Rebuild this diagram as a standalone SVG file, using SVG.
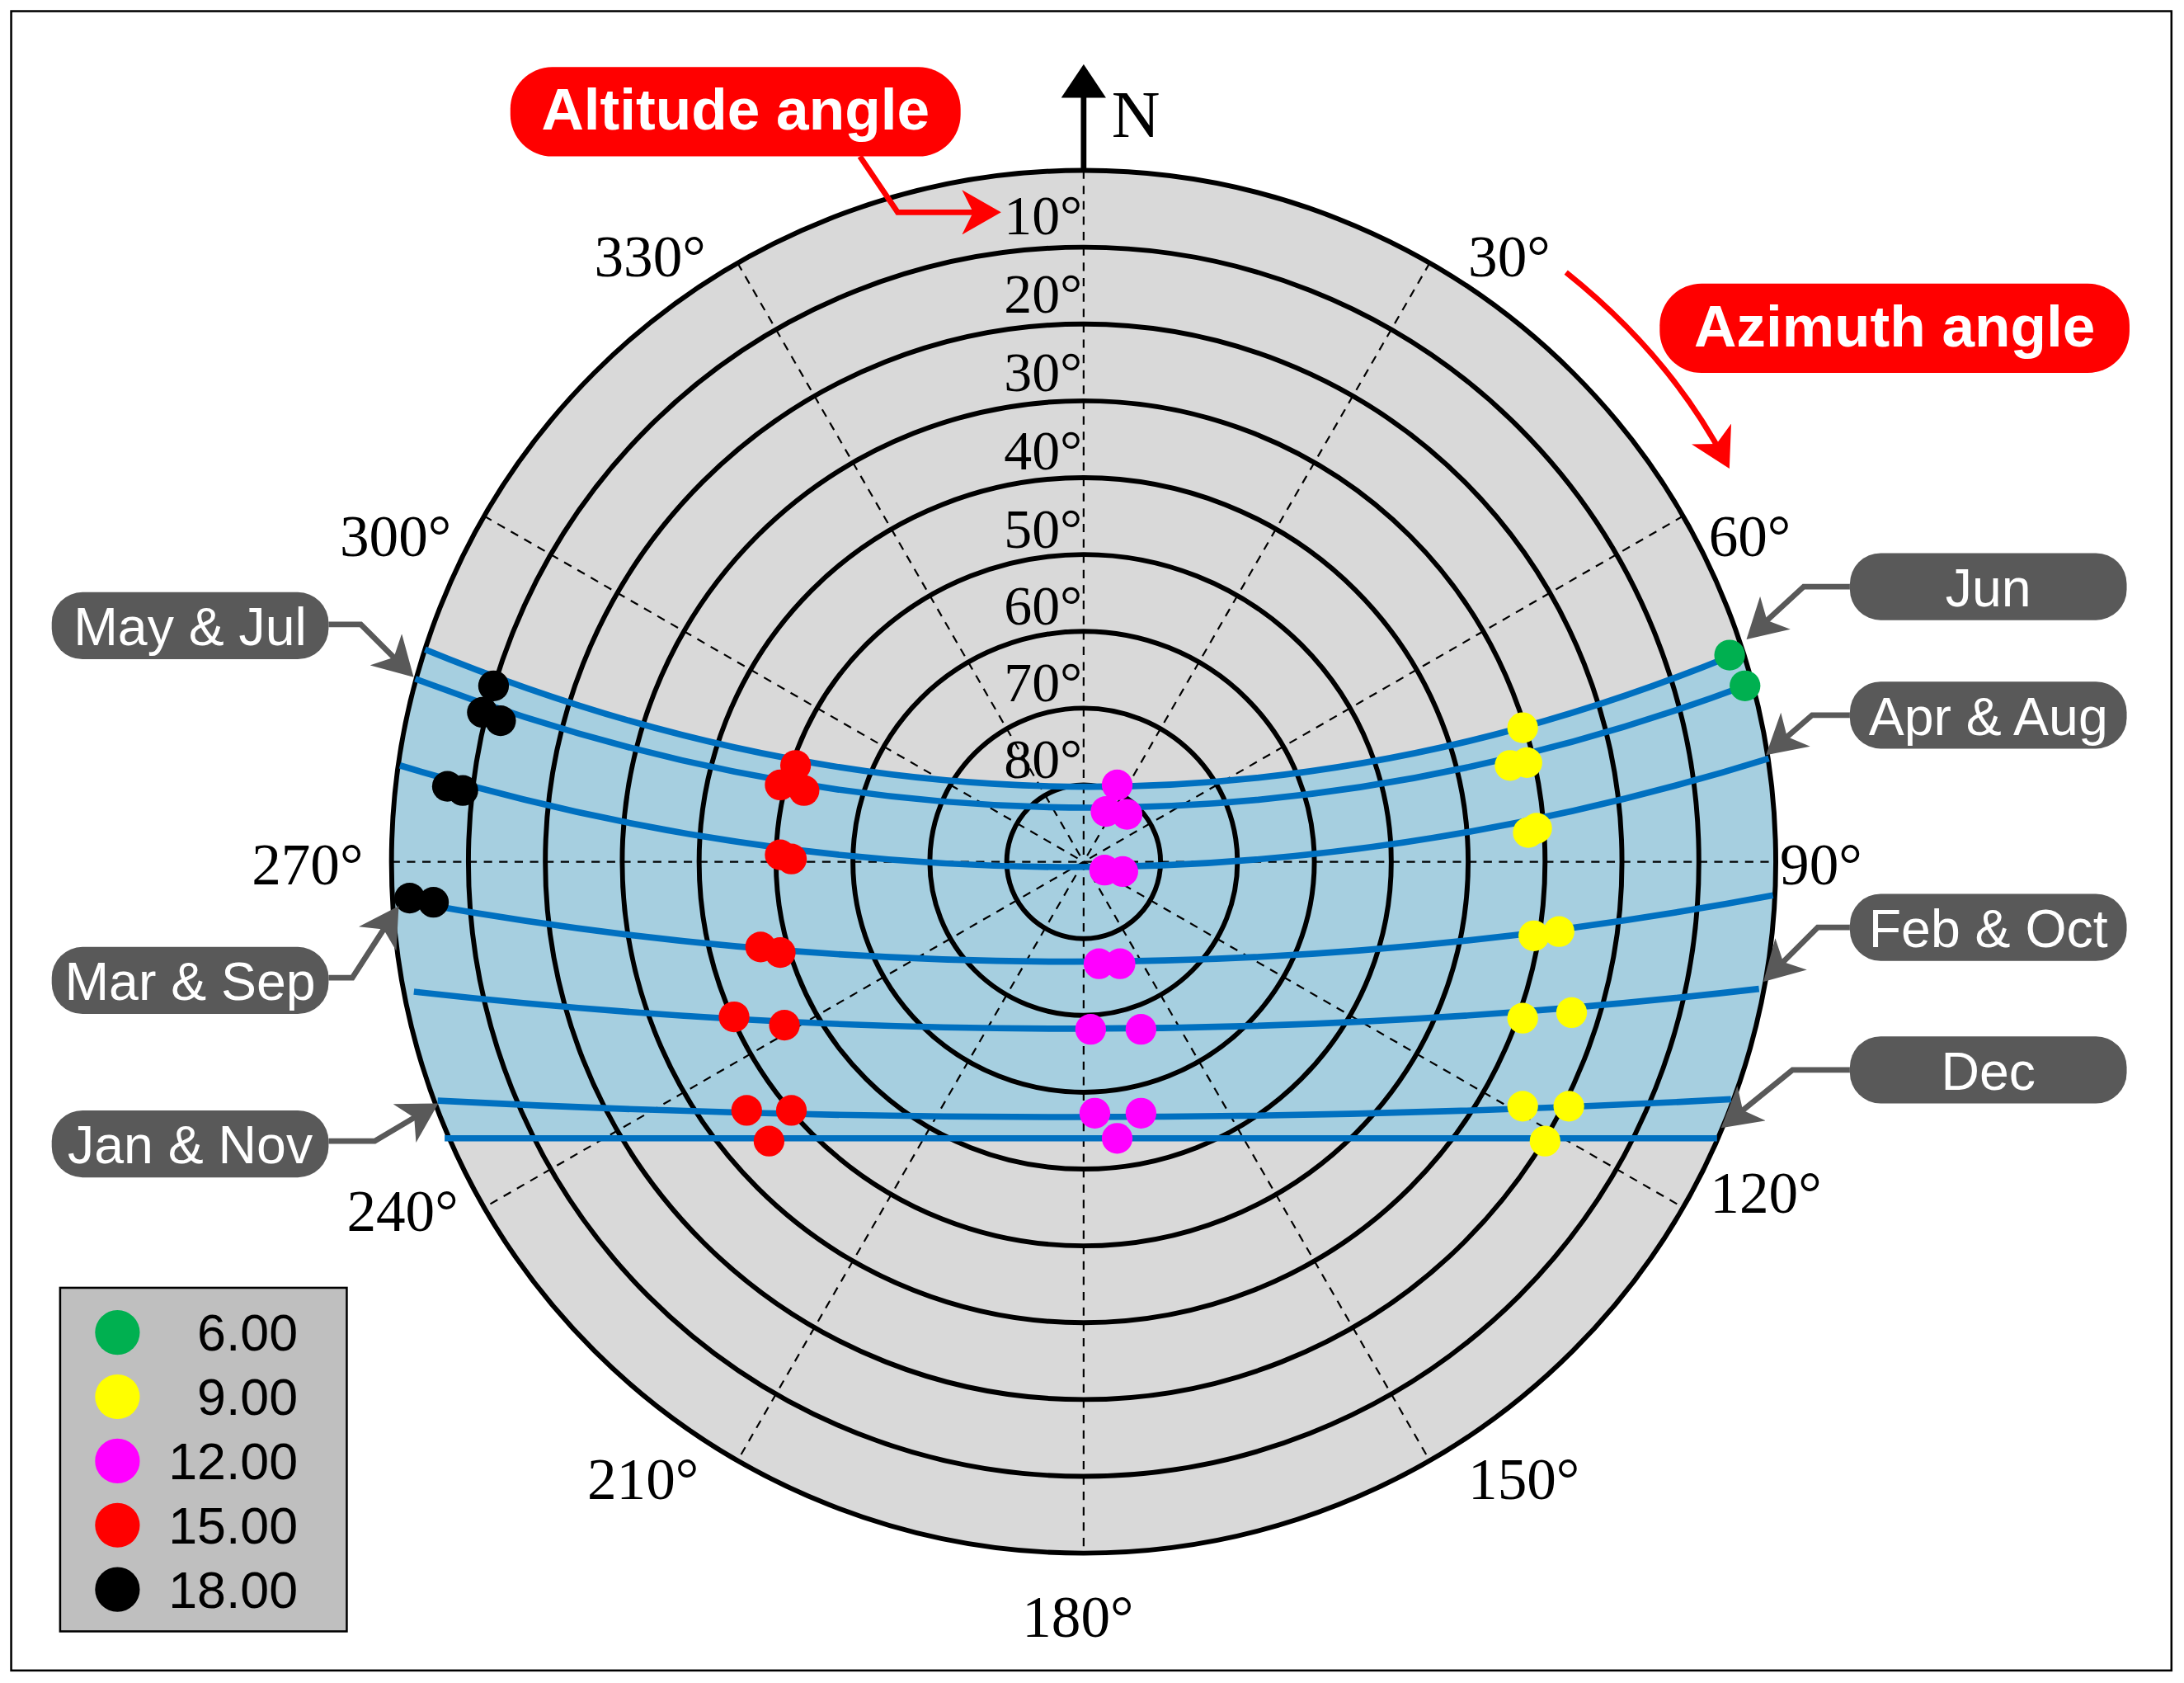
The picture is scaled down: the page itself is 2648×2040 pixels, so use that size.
<svg xmlns="http://www.w3.org/2000/svg" width="2648" height="2040" viewBox="0 0 2648 2040">
<style>
.ring{fill:none;stroke:#000;stroke-width:3.5}
.sp{stroke:#000;stroke-width:1.3;stroke-dasharray:6 5;fill:none}
.cv{fill:none;stroke:#0070c0;stroke-width:4.5}
.tm{font-family:"Liberation Serif",serif;font-size:42px;fill:#000}
.al{font-family:"Liberation Serif",serif;font-size:40px;fill:#000;text-anchor:middle}
.cb{font-family:"Liberation Sans",Arial,sans-serif;font-size:38px;fill:#fff;text-anchor:middle}
.rb{font-family:"Liberation Sans",Arial,sans-serif;font-size:42px;font-weight:bold;fill:#fff;text-anchor:middle}
.lg{font-family:"Liberation Sans",Arial,sans-serif;font-size:37px;fill:#000;text-anchor:end}
.ga{fill:none;stroke:#595959;stroke-width:4;marker-end:url(#ga)}
.ra{fill:none;stroke:#f00;stroke-width:4;marker-end:url(#ra)}
</style>
<defs>
<marker id="ga" markerWidth="8" markerHeight="8" refX="6" refY="4" orient="auto" markerUnits="strokeWidth"><path d="M0,0 L7,4 L0,8 L2,4 Z" fill="#595959"/></marker>
<marker id="ra" markerWidth="8" markerHeight="8" refX="6" refY="4" orient="auto" markerUnits="strokeWidth"><path d="M0,0 L7,4 L0,8 L2,4 Z" fill="#f00"/></marker>
<marker id="ka" markerWidth="6" markerHeight="8" refX="5" refY="4" orient="auto" markerUnits="strokeWidth"><path d="M0,0 L6,4 L0,8 Z" fill="#000"/></marker>
<clipPath id="cc"><circle cx="775" cy="617" r="495"/></clipPath>
</defs>
<rect width="2648" height="2040" fill="#fff"/>
<g transform="scale(1.6953 1.693)">
<rect x="8" y="8" width="1545" height="1188" fill="none" stroke="#000" stroke-width="1.5"/>
<g id="plot">
<circle cx="775" cy="617" r="495" fill="#d9d9d9"/>
<path clip-path="url(#cc)" d="M304,465 Q775,659 1237,470 L1300,440 L1300,815 L250,815 L250,440 Z" fill="#a6cfe0"/>
<g>
<line class="sp" x1="775" y1="122" x2="775" y2="1112"/>
<line class="sp" x1="280" y1="617" x2="1270" y2="617"/>
<line class="sp" x1="527.5" y1="188.3" x2="1022.5" y2="1045.7"/>
<line class="sp" x1="1022.5" y1="188.3" x2="527.5" y2="1045.7"/>
<line class="sp" x1="346.3" y1="369.5" x2="1203.7" y2="864.5"/>
<line class="sp" x1="1203.7" y1="369.5" x2="346.3" y2="864.5"/>
</g>
<circle class="ring" cx="775" cy="617" r="495"/>
<circle class="ring" cx="775" cy="617" r="440"/>
<circle class="ring" cx="775" cy="617" r="385"/>
<circle class="ring" cx="775" cy="617" r="330"/>
<circle class="ring" cx="775" cy="617" r="275"/>
<circle class="ring" cx="775" cy="617" r="220"/>
<circle class="ring" cx="775" cy="617" r="165"/>
<circle class="ring" cx="775" cy="617" r="110"/>
<circle class="ring" cx="775" cy="617" r="55"/>
<line x1="775" y1="122" x2="775" y2="50" stroke="#000" stroke-width="4" marker-end="url(#ka)"/>
</g>
<g id="curves">
<path class="cv" d="M304,465 Q775,659 1237,470"/>
<path class="cv" d="M297,486 Q775,668 1248,491"/>
<path class="cv" d="M286,548 Q775,696 1265,543"/>
<path class="cv" d="M290,645 Q775,734 1268,641"/>
<path class="cv" d="M296,710 Q775,764 1258,708"/>
<path class="cv" d="M313,788 Q775,812 1238,787"/>
<path class="cv" d="M318,815 L1228,815"/>
</g>
<g id="dots">
<g fill="#000"><circle cx="353" cy="491" r="11"/><circle cx="345" cy="510" r="11"/><circle cx="358" cy="516" r="11"/><circle cx="320" cy="563" r="11"/><circle cx="331" cy="566" r="11"/><circle cx="293" cy="643" r="11"/><circle cx="310" cy="646" r="11"/></g>
<g fill="#f00"><circle cx="569" cy="548" r="11"/><circle cx="558" cy="562" r="11"/><circle cx="575" cy="566" r="11"/><circle cx="558" cy="612" r="11"/><circle cx="566" cy="615" r="11"/><circle cx="544" cy="678" r="11"/><circle cx="558" cy="682" r="11"/><circle cx="525" cy="728" r="11"/><circle cx="561" cy="734" r="11"/><circle cx="534" cy="795" r="11"/><circle cx="566" cy="795" r="11"/><circle cx="550" cy="817" r="11"/></g>
<g fill="#f0f"><circle cx="799" cy="562" r="11"/><circle cx="791" cy="581" r="11"/><circle cx="806" cy="583" r="11"/><circle cx="790" cy="623" r="11"/><circle cx="803" cy="624" r="11"/><circle cx="786" cy="690" r="11"/><circle cx="801" cy="690" r="11"/><circle cx="780" cy="737" r="11"/><circle cx="816" cy="737" r="11"/><circle cx="783" cy="797" r="11"/><circle cx="816" cy="797" r="11"/><circle cx="799" cy="815" r="11"/></g>
<g fill="#ff0"><circle cx="1089" cy="521" r="11"/><circle cx="1080" cy="548" r="11"/><circle cx="1092" cy="546" r="11"/><circle cx="1093" cy="596" r="11"/><circle cx="1099" cy="593" r="11"/><circle cx="1097" cy="670" r="11"/><circle cx="1115" cy="667" r="11"/><circle cx="1089" cy="729" r="11"/><circle cx="1124" cy="725" r="11"/><circle cx="1089" cy="792" r="11"/><circle cx="1122" cy="792" r="11"/><circle cx="1105" cy="817" r="11"/></g>
<g fill="#00b050"><circle cx="1237" cy="469" r="11"/><circle cx="1248" cy="491" r="11"/></g>
</g>
<g id="labels">
<text class="al" x="746" y="168">10°</text>
<text class="al" x="746" y="224">20°</text>
<text class="al" x="746" y="280">30°</text>
<text class="al" x="746" y="336">40°</text>
<text class="al" x="746" y="392">50°</text>
<text class="al" x="746" y="447">60°</text>
<text class="al" x="746" y="502">70°</text>
<text class="al" x="746" y="557">80°</text>
<text class="tm" x="795" y="98" style="font-size:48px">N</text>
<text class="tm" x="425" y="198">330°</text>
<text class="tm" x="1050" y="198">30°</text>
<text class="tm" x="243" y="398">300°</text>
<text class="tm" x="1222" y="398">60°</text>
<text class="tm" x="180" y="633">270°</text>
<text class="tm" x="1273" y="633">90°</text>
<text class="tm" x="248" y="881">240°</text>
<text class="tm" x="1223" y="868">120°</text>
<text class="tm" x="420" y="1073">210°</text>
<text class="tm" x="1050" y="1073">150°</text>
<text class="tm" x="731" y="1172">180°</text>
</g>
<g id="altitude-callout">
<rect x="365" y="48" width="322" height="64" rx="30" fill="#f00"/>
<text class="rb" x="526" y="93">Altitude angle</text>
<path class="ra" d="M615,112 L642,152 L712,152"/>
</g>
<g id="azimuth-callout">
<rect x="1187" y="203" width="336" height="64" rx="30" fill="#f00"/>
<text class="rb" x="1355" y="248">Azimuth angle</text>
<path class="ra" d="M1120,195 Q1195,255 1235,332"/>
</g>
<g id="jun"><rect x="1323" y="396" width="198" height="48" rx="22" fill="#595959"/><text class="cb" x="1422" y="434">Jun</text><path class="ga" d="M1323,420 L1290,420 L1252,455"/></g>
<g id="apraug"><rect x="1323" y="488" width="198" height="48" rx="22" fill="#595959"/><text class="cb" x="1422" y="526">Apr &amp; Aug</text><path class="ga" d="M1323,512 L1296,512 L1266,538"/></g>
<g id="feboct"><rect x="1323" y="640" width="198" height="48" rx="22" fill="#595959"/><text class="cb" x="1422" y="678">Feb &amp; Oct</text><path class="ga" d="M1323,664 L1300,664 L1264,700"/></g>
<g id="dec"><rect x="1323" y="742" width="198" height="48" rx="22" fill="#595959"/><text class="cb" x="1422" y="780">Dec</text><path class="ga" d="M1323,766 L1282,766 L1234,805"/></g>
<g id="mayjul"><rect x="37" y="424" width="198" height="48" rx="22" fill="#595959"/><text class="cb" x="136" y="462">May &amp; Jul</text><path class="ga" d="M235,447 L258,447 L293,482"/></g>
<g id="marsep"><rect x="37" y="678" width="198" height="48" rx="22" fill="#595959"/><text class="cb" x="136" y="716">Mar &amp; Sep</text><path class="ga" d="M235,700 L252,700 L283,652"/></g>
<g id="jannov"><rect x="37" y="795" width="198" height="48" rx="22" fill="#595959"/><text class="cb" x="136" y="833">Jan &amp; Nov</text><path class="ga" d="M235,817 L268,817 L310,792"/></g>
<g id="legend">
<rect x="43" y="922" width="205" height="246" fill="#bfbfbf" stroke="#000" stroke-width="1.5"/>
<circle cx="84" cy="954" r="16" fill="#00b050"/><text class="lg" x="213" y="967">6.00</text>
<circle cx="84" cy="1000" r="16" fill="#ff0"/><text class="lg" x="213" y="1013">9.00</text>
<circle cx="84" cy="1046" r="16" fill="#f0f"/><text class="lg" x="213" y="1059">12.00</text>
<circle cx="84" cy="1092" r="16" fill="#f00"/><text class="lg" x="213" y="1105">15.00</text>
<circle cx="84" cy="1138" r="16" fill="#000"/><text class="lg" x="213" y="1151">18.00</text>
</g>
</g>
</svg>
